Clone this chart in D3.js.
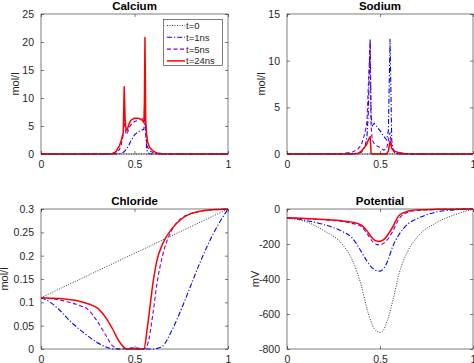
<!DOCTYPE html>
<html>
<head>
<meta charset="utf-8">
<script src="https://cdn.jsdelivr.net/npm/d3@7"></script>
<style>
  body { margin: 0; background: #fff; }
  svg { display: block; font-family: "Liberation Sans", Arial, sans-serif; }
  .tick text { fill: #262626; font-size: 10.5px; }
  .tick line { stroke: #262626; stroke-width: 0.6; }
</style>
</head>
<body>
<div id="chart"></div>
<script>
// legend / series names
var seriesNames = ["t=0", "t=1ns", "t=5ns", "t=24ns"];

// Calcium (mol/l)
var caX   = [0, 0.30, 0.38, 0.40, 0.42, 0.43, 0.44, 0.445, 0.45, 0.455, 0.46, 0.47, 0.48, 0.50, 0.52, 0.54, 0.55, 0.553, 0.556, 0.56, 0.565, 0.57, 0.58, 0.60, 0.62, 0.65, 0.70, 1];
var caT0  = [0, 0, 0, 0, 0, 0, 0, 0, 0, 0, 0, 0, 0, 0, 0, 0, 0, 0, 0, 0, 0, 0, 0, 0, 0, 0, 0, 0];
var caT1  = [0, 0, 0, 0, 0.05, 0.1, 0.3, 0.4, 0.6, 0.8, 1.0, 1.6, 2.3, 3.4, 4.0, 4.3, 4.4, 5.5, 7.5, 4.0, 1.0, 0.3, 0.05, 0, 0, 0, 0, 0];
var caT5  = [0, 0, 0.02, 0.2, 0.8, 1.8, 3.5, 7.0, 4.5, 3.6, 3.5, 4.6, 5.2, 5.8, 6.0, 6.2, 6.4, 6.8, 7.0, 4.0, 2.0, 1.2, 0.6, 0.2, 0.05, 0, 0, 0];
var caT24 = [0, 0, 0.05, 0.4, 1.5, 2.5, 3.8, 12.0, 6.0, 4.4, 4.2, 5.3, 6.0, 6.4, 6.4, 6.1, 5.6, 9.0, 20.8, 6.0, 3.5, 2.2, 1.2, 0.5, 0.2, 0.05, 0, 0];

// Sodium (mol/l)
var naX   = [0, 0.30, 0.35, 0.38, 0.40, 0.42, 0.43, 0.437, 0.447, 0.452, 0.458, 0.469, 0.48, 0.49, 0.50, 0.52, 0.536, 0.545, 0.554, 0.563, 0.57, 0.58, 0.60, 0.63, 0.65, 0.70, 1];
var naT0  = [0, 0, 0, 0, 0, 0, 0, 0, 0, 0, 0, 0, 0, 0, 0, 0, 0, 0, 0, 0, 0, 0, 0, 0, 0, 0, 0];
var naT1  = [0, 0, 0.02, 0.1, 0.2, 0.8, 1.9, 4.4, 12.3, 4.0, 3.0, 3.3, 3.0, 2.75, 2.5, 1.9, 1.5, 2.5, 12.3, 1.5, 0.6, 0.07, 0, 0, 0, 0, 0];
var naT5  = [0, 0.05, 0.2, 0.5, 1.0, 2.3, 3.5, 7.2, 12.0, 3.0, 1.5, 1.1, 0.9, 0.8, 0.7, 0.4, 0.6, 1.5, 2.3, 0.8, 0.4, 0.1, 0, 0, 0, 0, 0];
var naT24 = [0, 0, 0, 0.05, 0.3, 0.8, 1.1, 1.5, 1.86, 0.1, 0, 0, 0, 0, 0, 0, 0, 0.3, 1.4, 0.6, 0.45, 0.3, 0.15, 0.05, 0.02, 0, 0];

// Chloride (mol/l)
var clX   = [0, 0.05, 0.1, 0.15, 0.2, 0.25, 0.3, 0.35, 0.38, 0.42, 0.46, 0.5, 0.55, 0.57, 0.6, 0.62, 0.65, 0.7, 0.75, 0.8, 0.85, 0.9, 0.95, 1];
var clT0  = [0.11, 0.1195, 0.129, 0.1385, 0.148, 0.1575, 0.167, 0.1765, 0.1822, 0.1898, 0.1974, 0.205, 0.2145, 0.2183, 0.224, 0.2278, 0.2335, 0.243, 0.2525, 0.262, 0.2715, 0.281, 0.2905, 0.3];
var clT1  = [0.11, 0.1, 0.083, 0.062, 0.044, 0.028, 0.014, 0.004, 0.0005, 0, 0, 0, 0, 0, 0, 0.001, 0.006, 0.04, 0.085, 0.135, 0.185, 0.23, 0.268, 0.3];
var clT5  = [0.11, 0.108, 0.105, 0.1, 0.094, 0.085, 0.06, 0.027, 0.008, 0, 0.001, 0.003, 0, 0.01, 0.08, 0.14, 0.2, 0.255, 0.28, 0.29, 0.295, 0.298, 0.299, 0.3];
var clT24 = [0.11, 0.109, 0.108, 0.106, 0.103, 0.097, 0.088, 0.065, 0.045, 0.015, 0, 0, 0, 0.05, 0.145, 0.19, 0.225, 0.258, 0.278, 0.29, 0.295, 0.298, 0.299, 0.3];

// Potential (mV)
var vX   = [0, 0.1, 0.2, 0.3, 0.35, 0.4, 0.43, 0.46, 0.48, 0.5, 0.52, 0.54, 0.57, 0.6, 0.65, 0.7, 0.8, 0.9, 1];
var vT0  = [-52, -72, -125, -205, -290, -440, -570, -665, -697, -705, -690, -635, -520, -380, -240, -160, -80, -33, -2];
var vT1  = [-50, -65, -90, -130, -165, -245, -298, -338, -352, -355, -340, -300, -210, -150, -85, -55, -18, -5, 0];
var vT5  = [-50, -55, -62, -72, -82, -100, -140, -185, -202, -205, -195, -175, -125, -60, -18, -8, -3, -1, 0];
var vT24 = [-50, -54, -60, -68, -75, -92, -125, -168, -183, -184, -175, -150, -100, -40, -12, -5, -2, -1, 0];

var xTicks = [0, 0.5, 1];

var styles = [
  { color: "#000000", width: 0.8, dash: "1,1.5" },
  { color: "#0000ff", width: 1.1, dash: "5,2,1.2,2" },
  { color: "#7a00d6", width: 1.1, dash: "4,2.5" },
  { color: "#ff0000", width: 1.5, dash: null }
];

var svg = d3.select("#chart").append("svg")
    .attr("width", 474)
    .attr("height", 363);

/**
 * one subplot
 */
function drawPanel(p, idx) {
    var x = d3.scaleLinear().domain([0, 1]).range([p.left, p.right]);
    var y = d3.scaleLinear().domain(p.yDomain).range([p.bottom, p.top]);

    var g = svg.append("g");

    g.append("clipPath").attr("id", "clip" + idx)
        .append("rect")
        .attr("x", p.left).attr("y", p.top - 1)
        .attr("width", p.right - p.left).attr("height", p.bottom - p.top + 2);

    // axes, ticks inward
    g.append("g")
        .attr("transform", "translate(0," + p.bottom + ")")
        .call(d3.axisBottom(x).tickValues(xTicks).tickFormat(d3.format("")).tickSizeInner(-3).tickSizeOuter(0).tickPadding(7))
        .call(a => a.select(".domain").remove());
    g.append("g")
        .attr("transform", "translate(0," + p.top + ")")
        .call(d3.axisTop(x).tickValues(xTicks).tickFormat("").tickSizeInner(-3).tickSizeOuter(0))
        .call(a => a.select(".domain").remove());
    g.append("g")
        .attr("transform", "translate(" + p.left + ",0)")
        .call(d3.axisLeft(y).tickValues(p.yTicks).tickFormat(d => String(d)).tickSizeInner(-3).tickSizeOuter(0).tickPadding(7))
        .call(a => a.select(".domain").remove());
    g.append("g")
        .attr("transform", "translate(" + p.right + ",0)")
        .call(d3.axisRight(y).tickValues(p.yTicks).tickFormat("").tickSizeInner(-3).tickSizeOuter(0))
        .call(a => a.select(".domain").remove());

    var line = d3.line()
        .x(d => x(d[0]))
        .y(d => y(d[1]))
        .curve(p.smooth ? d3.curveMonotoneX : d3.curveLinear);

    var lines = g.append("g").attr("clip-path", "url(#clip" + idx + ")");
    p.series.forEach(function(s, i) {
        var pts = p.xs.map((v, j) => [v, s[j]]);
        lines.append("path")
            .attr("d", line(pts))
            .attr("fill", "none")
            .attr("stroke", styles[i].color)
            .attr("stroke-width", styles[i].width)
            .attr("stroke-dasharray", styles[i].dash)
            .attr("stroke-linejoin", "round");
    });

    // box
    g.append("rect")
        .attr("x", p.left).attr("y", p.top)
        .attr("width", p.right - p.left).attr("height", p.bottom - p.top)
        .attr("fill", "none")
        .attr("stroke", "#262626")
        .attr("stroke-width", 0.6);

    g.append("text")
        .attr("x", (p.left + p.right) / 2)
        .attr("y", p.top - 4)
        .attr("text-anchor", "middle")
        .style("font-size", "11.5px")
        .style("font-weight", "bold")
        .text(p.title);

    g.append("text")
        .attr("transform", "translate(" + p.labelX + "," + ((p.top + p.bottom) / 2) + ") rotate(-90)")
        .attr("text-anchor", "middle")
        .attr("fill", "#262626")
        .style("font-size", "11px")
        .text(p.yLabel);

    if (p.legend) {
        var lg = g.append("g");
        lg.append("rect")
            .attr("x", 163.5).attr("y", 19.5)
            .attr("width", 59).attr("height", 46)
            .attr("fill", "#fff")
            .attr("stroke", "#262626")
            .attr("stroke-width", 0.6);
        seriesNames.forEach(function(n, i) {
            var yy = 25.5 + i * 11.8;
            lg.append("line")
                .attr("x1", 167).attr("x2", 185)
                .attr("y1", yy).attr("y2", yy)
                .attr("stroke", styles[i].color)
                .attr("stroke-width", styles[i].width)
                .attr("stroke-dasharray", styles[i].dash);
            lg.append("text")
                .attr("x", 186).attr("y", yy + 3.5)
                .attr("fill", "#262626")
                .style("font-size", "9.5px")
                .text(n);
        });
    }
}

var panels = [
    { title: "Calcium", yLabel: "mol/l", labelX: 19, left: 41, right: 228, top: 14, bottom: 154,
      yDomain: [0, 25], yTicks: [0, 5, 10, 15, 20, 25], xs: caX, series: [caT0, caT1, caT5, caT24], smooth: false, legend: true },
    { title: "Sodium", yLabel: "mol/l", labelX: 265, left: 287, right: 473, top: 14, bottom: 154,
      yDomain: [0, 15], yTicks: [0, 5, 10, 15], xs: naX, series: [naT0, naT1, naT5, naT24], smooth: false },
    { title: "Chloride", yLabel: "mol/l", labelX: 8, left: 41, right: 228, top: 209, bottom: 349,
      yDomain: [0, 0.3], yTicks: [0, 0.05, 0.1, 0.15, 0.2, 0.25, 0.3], xs: clX, series: [clT0, clT1, clT5, clT24], smooth: true },
    { title: "Potential", yLabel: "mV", labelX: 259, left: 287, right: 473, top: 209, bottom: 349,
      yDomain: [-800, 0], yTicks: [-800, -600, -400, -200, 0], xs: vX, series: [vT0, vT1, vT5, vT24], smooth: true }
];

panels.forEach(drawPanel);
</script>
</body>
</html>
